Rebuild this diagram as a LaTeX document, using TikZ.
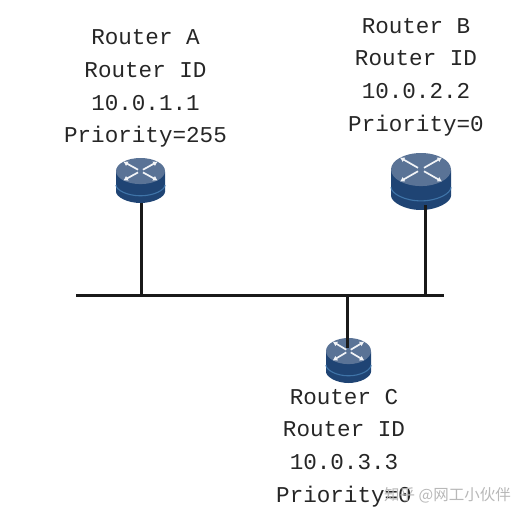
\documentclass[tikz,border=0pt]{standalone}
\usepackage{fontspec}
\usetikzlibrary{arrows.meta}
\setmonofont{Liberation Mono}
\newfontfamily\cjkwm{Noto Sans CJK SC}
\definecolor{rtop}{HTML}{5A7396}
\definecolor{rdark}{HTML}{1F4474}
\definecolor{rband}{HTML}{3F74A8}
% centre x, centre y, half width, half height (in pixels)
\newcommand{\routerglyph}[4]{%
  \begin{scope}[shift={(#1,#2)},x=#3pt,y=-#4pt]
    \fill[rdark] (-1,-0.4) -- (-1,0.5)
      .. controls (-1,0.72) and (-0.55,1) .. (0,1)
      .. controls (0.55,1) and (1,0.72) .. (1,0.5) -- (1,-0.4) -- cycle;
    \draw[rband,line width=1.1pt] (-1,0.2)
      .. controls (-1,0.42) and (-0.55,0.68) .. (0,0.68)
      .. controls (0.55,0.68) and (1,0.42) .. (1,0.2);
    \fill[rtop] (-1,-0.42)
      .. controls (-1,-0.74) and (-0.55,-1) .. (0,-1)
      .. controls (0.55,-1) and (1,-0.74) .. (1,-0.42)
      .. controls (1,-0.1) and (0.55,0.16) .. (0,0.16)
      .. controls (-0.55,0.16) and (-1,-0.1) .. (-1,-0.42) -- cycle;
    \foreach \dx/\dy in {1/-1,-1/-1,-1/1,1/1}{
      \draw[white!92!rtop,line width=1.7pt,-{Latex[length=4.5pt,width=5.5pt]}]
        ({0.1*\dx},{-0.42+0.06*\dy}) -- ({0.7*\dx},{-0.42+0.42*\dy});
    }
  \end{scope}}
\tikzset{
  lbl/.style={font=\ttfamily\fontsize{22.6}{32.7}\selectfont,align=center,text=black!85,inner sep=0pt},
  wire/.style={line width=3pt,black!90},
  wm/.style={font=\cjkwm\fontsize{15.5}{15.5}\selectfont,text=black!28,inner sep=0pt},
}
\begin{document}
\begin{tikzpicture}[x=1pt,y=-1pt]
\useasboundingbox (0,0) rectangle (524,519);
\coordinate (busL) at (76,295);
\coordinate (busR) at (444,295);
\coordinate (tapA) at (141,295);
\coordinate (tapB) at (425,295);
\coordinate (tapC) at (347,295);
\coordinate (portA) at (141,203);
\coordinate (portB) at (425,205);
\coordinate (portC) at (347,348);
\routerglyph{140.5}{180.5}{24.5}{22.5}
\routerglyph{421}{181.5}{30}{28.5}
\routerglyph{348.5}{360.5}{22.5}{22.5}
\draw[wire] (busL) -- (busR);
\draw[wire] (tapA) -- (portA);
\draw[wire] (tapB) -- (portB);
\draw[wire] (tapC) -- (portC);
\node[lbl] (labelA) at (145.5,88.5) {Router A\\Router ID\\10.0.1.1\\Priority=255};
\node[lbl] (labelB) at (416,77) {Router B\\Router ID\\10.0.2.2\\Priority=0};
\node[lbl] (labelC) at (344,448) {Router C\\Router ID\\10.0.3.3\\Priority=0};
\node[wm,anchor=west] (mark) at (384,495) {知乎 @网工小伙伴};
\end{tikzpicture}
\end{document}
